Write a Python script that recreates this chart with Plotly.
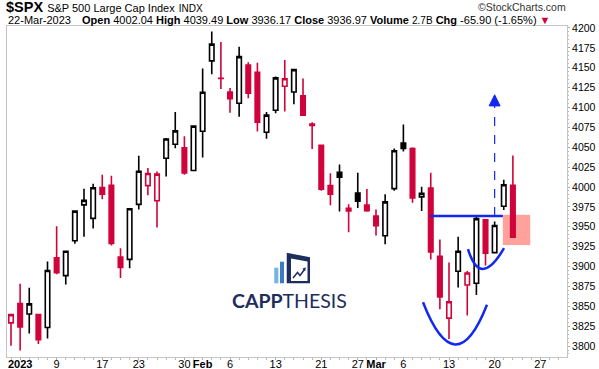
import plotly.graph_objects as go

# ---------------- data ----------------
dates = ["2022-12-30",
         "2023-01-03", "2023-01-04", "2023-01-05", "2023-01-06", "2023-01-09", "2023-01-10", "2023-01-11",
         "2023-01-12", "2023-01-13", "2023-01-17", "2023-01-18", "2023-01-19", "2023-01-20", "2023-01-23",
         "2023-01-24", "2023-01-25", "2023-01-26", "2023-01-27", "2023-01-30", "2023-01-31",
         "2023-02-01", "2023-02-02", "2023-02-03", "2023-02-06", "2023-02-07", "2023-02-08", "2023-02-09",
         "2023-02-10", "2023-02-13", "2023-02-14", "2023-02-15", "2023-02-16", "2023-02-17", "2023-02-21",
         "2023-02-22", "2023-02-23", "2023-02-24", "2023-02-27", "2023-02-28",
         "2023-03-01", "2023-03-02", "2023-03-03", "2023-03-06", "2023-03-07", "2023-03-08", "2023-03-09",
         "2023-03-10", "2023-03-13", "2023-03-14", "2023-03-15", "2023-03-16", "2023-03-17", "2023-03-20",
         "2023-03-21", "2023-03-22"]
opens = [3829.06,
         3853.29, 3840.36, 3839.74, 3823.37, 3910.82, 3888.57, 3932.35,
         3977.57, 3960.60, 3999.28, 4002.25, 3911.84, 3909.04, 3978.14,
         4001.74, 3982.71, 4036.08, 4053.72, 4049.27, 4020.85,
         4070.07, 4158.68, 4136.69, 4119.57, 4105.35, 4153.47, 4144.25,
         4068.92, 4096.62, 4126.70, 4119.50, 4114.75, 4077.39, 4052.35,
         4001.83, 4018.60, 3973.24, 3992.36, 3977.19,
         3963.34, 3938.68, 3998.02, 4055.15, 4048.26, 3987.55, 3998.66,
         3912.77, 3835.12, 3894.01, 3876.74, 3878.93, 3958.69, 3917.47,
         3975.89, 4002.04]
highs = [3839.85,
         3878.46, 3873.16, 3839.74, 3906.19, 3950.57, 3919.83, 3970.07,
         3997.76, 4003.95, 4015.39, 4014.16, 3922.94, 3972.96, 4039.31,
         4023.92, 4019.55, 4061.57, 4094.21, 4063.85, 4077.16,
         4148.95, 4195.44, 4182.36, 4124.63, 4176.54, 4156.85, 4156.23,
         4094.36, 4138.90, 4159.77, 4148.11, 4136.54, 4081.51, 4052.35,
         4017.37, 4028.30, 3978.25, 4018.05, 3997.50,
         3971.73, 3990.84, 4048.29, 4078.49, 4050.00, 4000.41, 4017.81,
         3934.05, 3905.05, 3937.29, 3894.26, 3964.46, 3958.91, 3956.62,
         4009.08, 4039.49]
lows = [3800.34,
        3794.33, 3815.77, 3802.42, 3809.56, 3890.42, 3877.29, 3928.54,
        3937.56, 3947.67, 3984.57, 3926.59, 3885.54, 3897.86, 3971.64,
        3989.79, 3949.06, 4013.29, 4048.70, 4015.55, 4020.44,
        4037.20, 4141.88, 4123.36, 4093.38, 4088.39, 4111.67, 4069.67,
        4060.79, 4092.67, 4095.01, 4103.98, 4089.49, 4047.95, 3995.19,
        3976.90, 3969.19, 3943.08, 3973.55, 3968.98,
        3939.05, 3928.16, 3995.17, 4044.61, 3980.31, 3969.76, 3908.70,
        3846.32, 3808.86, 3873.63, 3838.24, 3864.11, 3901.27, 3916.89,
        3971.19, 3936.17]
closes = [3839.50,
          3824.14, 3852.97, 3808.10, 3895.08, 3892.09, 3919.25, 3969.61,
          3983.17, 3999.09, 3990.97, 3928.86, 3898.85, 3972.61, 4019.81,
          4016.95, 4016.22, 4060.43, 4070.56, 4017.77, 4076.60,
          4119.21, 4179.76, 4136.48, 4111.08, 4164.00, 4117.86, 4081.50,
          4090.46, 4137.29, 4136.13, 4147.60, 4090.41, 4079.09, 3997.34,
          3991.05, 4012.32, 3970.04, 3982.24, 3970.15,
          3951.39, 3981.35, 4045.64, 4048.42, 3986.37, 3992.01, 3918.32,
          3861.59, 3855.76, 3919.29, 3891.93, 3960.28, 3916.64, 3951.57,
          4002.87, 3936.97]
prev_close_before_first = 3849.28

tick_pos = [1, 5, 10, 14, 19, 21, 24, 29, 34, 38, 40, 43, 48, 53, 58]
tick_text = ["<b>2023</b>", "9", "17", "23", "30", "<b>Feb</b>", "6", "13", "21", "27",
             "<b>Mar</b>", "6", "13", "20", "27"]
y_ticks = list(range(3800, 4201, 25))

# annotation levels (price levels)
neckline = 3963.5
target = 4116
big_cup = [(45.15, 3855), (48.7, 3750.5), (52.16, 3852)]
small_cup = [(50.08, 3922), (51.4, 3871.5), (54.03, 3923)]
box_zone = (53.9, 56.9, 3927, 3965)

RED = "#d0033b"
BLUE = "#1328f0"

# ---------------- split candles by colour ----------------
idx = list(range(len(dates)))
prev = [prev_close_before_first] + closes[:-1]
blk = [i for i in idx if closes[i] >= prev[i]]
red = [i for i in idx if closes[i] < prev[i]]

fig = go.Figure()

def add_candles(sel, color):
    fig.add_trace(go.Candlestick(
        x=sel,
        open=[opens[i] for i in sel], high=[highs[i] for i in sel],
        low=[lows[i] for i in sel], close=[closes[i] for i in sel],
        increasing=dict(line=dict(color=color, width=1.6), fillcolor="white"),
        decreasing=dict(line=dict(color=color, width=1.6), fillcolor=color),
        whiskerwidth=0, hoverinfo="skip", showlegend=False))

add_candles(blk, "black")
add_candles(red, RED)

# ---------------- pattern drawing ----------------
shapes = []
shapes.append(dict(type="rect", xref="x", yref="y", x0=box_zone[0], x1=box_zone[1],
                   y0=box_zone[2], y1=box_zone[3], fillcolor="rgba(255,100,90,0.6)",
                   line=dict(width=0), layer="below"))
shapes.append(dict(type="line", xref="x", yref="y", x0=46.0, x1=53.9, y0=neckline, y1=neckline,
                   line=dict(color=BLUE, width=2.5)))
shapes.append(dict(type="line", xref="x", yref="y", x0=53.0, x1=53.0, y0=neckline, y1=target - 14,
                   line=dict(color=BLUE, width=1.2, dash="dash")))
shapes.append(dict(type="path", xref="x", yref="y",
                   path=f"M 52.4,{target-14} L 53.0,{target} L 53.6,{target-14} Z",
                   fillcolor=BLUE, line=dict(color=BLUE, width=1)))
for cup in (big_cup, small_cup):
    (a, b), (c, d), (e, f) = cup
    shapes.append(dict(type="path", xref="x", yref="y",
                       path=f"M {a},{b} Q {c},{d} {e},{f}",
                       line=dict(color=BLUE, width=2.5)))

# ---------------- logo (pixel-placed) ----------------
L, T, R, B = 7, 26, 567, 357
def px(x): return (x - L) / (R - L)
def py(y): return (B - y) / (B - T)

def poly(pts, fill, line_w=0, line_c=None, closed=True):
    p = "M " + " L ".join(f"{px(x):.4f},{py(y):.4f}" for x, y in pts)
    if closed:
        p += " Z"
    d = dict(type="path", xref="paper", yref="paper", path=p, layer="above")
    if closed:
        d["fillcolor"] = fill
        d["line"] = dict(width=0)
    else:
        d["line"] = dict(color=line_c, width=line_w)
    return d

NAVY = "#1d2d5e"
shapes.append(poly([(274.3, 267.7), (278.3, 267.7), (278.3, 283.3), (274.3, 283.3)], "#74b3e6"))
shapes.append(poly([(280.0, 261.7), (284.0, 261.7), (284.0, 283.3), (280.0, 283.3)], "#3a7cc4"))
shapes.append(poly([(286.7, 252.7), (310.0, 257.3), (310.0, 283.3), (286.7, 283.3)], NAVY))
shapes.append(poly([(291.0, 258.5), (307.5, 261.6), (307.5, 281.0), (291.0, 281.0)], "white"))
shapes.append(poly([(293.0, 278.0), (297.5, 272.5), (300.0, 275.5), (304.5, 269.5)], None,
                   line_w=1.5, line_c=NAVY, closed=False))
shapes.append(poly([(302.3, 268.8), (305.8, 267.3), (305.2, 271.2)], NAVY))

annotations = []
def note(text, x, y, size, anchor="left", color="#000", family="Liberation Sans, Arial, sans-serif"):
    annotations.append(dict(text=text, xref="paper", yref="paper", x=px(x), y=py(y),
                            xanchor=anchor, yanchor="middle", showarrow=False,
                            font=dict(size=size, color=color, family=family)))

note("<b>$SPX</b> <span style='font-size:11px'>S&amp;P 500 Large Cap Index</span> "
     "<span style='font-size:10px'>INDX</span>", 4, 7.5, 14.5)
note("©StockCharts.com", 568, 7.5, 10.5, anchor="right", color="#333")
note("22-Mar-2023", 6, 20.5, 11)
note("<b>Open</b> 4002.04 <b>High</b> 4039.49 <b>Low</b> 3936.17 <b>Close</b> 3936.97 "
     "<b>Volume</b> <span style='font-size:10px'>2.7B</span> <b>Chg</b> -65.90 (-1.65%) "
     f"<span style='color:{RED}'>▼</span>", 80, 20.5, 11)
note("<b>CAPP</b>THESIS", 289, 300, 19.5, anchor="center", color=NAVY, family="Lato, sans-serif")

fig.update_layout(
    width=599, height=369,
    margin=dict(l=L, r=599 - R, t=T, b=369 - B, autoexpand=False),
    paper_bgcolor="white", plot_bgcolor="white",
    font=dict(family="Liberation Sans, Arial, sans-serif", size=11, color="#000"),
    boxmode="overlay", showlegend=False,
    shapes=shapes, annotations=annotations,
    xaxis=dict(range=[-0.44, 60.93], tickmode="array", tickvals=tick_pos, ticktext=tick_text,
               tickangle=0, automargin=False, ticklabelstandoff=-5,
               showgrid=False, zeroline=False, showline=True, mirror=True,
               linecolor="#c4c4c4", linewidth=1, ticks="outside", ticklen=2, tickcolor="#aaa",
               minor=dict(tickmode="linear", tick0=0, dtick=1, ticks="outside", ticklen=2,
                          tickcolor="#bbb"),
               rangeslider=dict(visible=False), fixedrange=True,
               tickfont=dict(size=11, color="#000")),
    yaxis=dict(range=[3786.2, 4202.5], side="right", tickmode="array", tickvals=y_ticks,
               automargin=False,
               showgrid=False, zeroline=False, showline=True, mirror=True,
               linecolor="#c4c4c4", linewidth=1, ticks="outside", ticklen=2, tickcolor="#aaa",
               minor=dict(tickmode="linear", tick0=3800, dtick=5, ticks="outside", ticklen=1,
                          tickcolor="#bbb"),
               fixedrange=True, tickfont=dict(size=10.5, color="#000")),
)

fig.write_html("out.html", config={"displayModeBar": False},
               post_script="document.body.style.margin='0';document.body.style.padding='0';"
                           "document.body.style.overflow='hidden';")
